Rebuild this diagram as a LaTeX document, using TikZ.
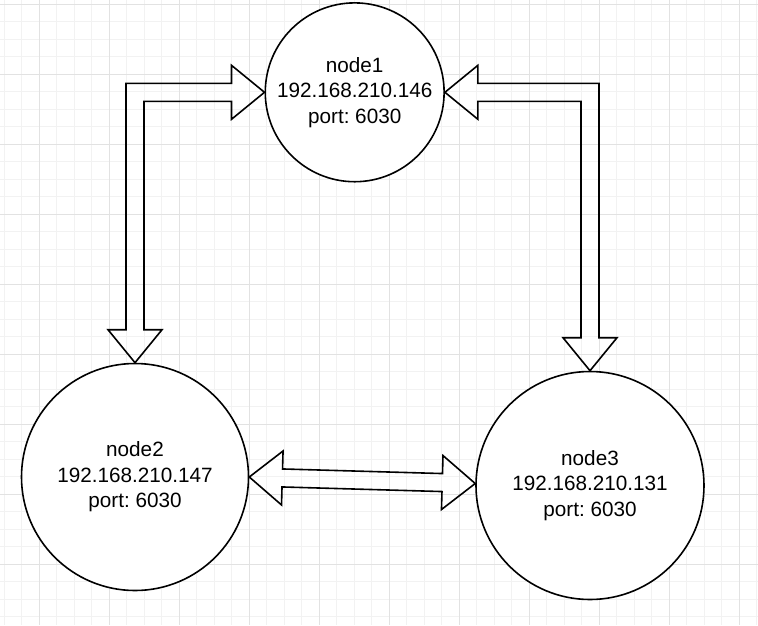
\documentclass[tikz,border=0pt]{standalone}
\usepackage{fontspec}
\setmainfont{Liberation Sans}
\usetikzlibrary{calc}

\definecolor{gridfine}{RGB}{242,242,242}
\definecolor{gridbold}{RGB}{226,226,226}

\newcommand{\twinarrow}[2]{
	\draw [hollow] (#1) -- ($(#1)!33pt!(#2)!27pt!90:(#2)$) -- ($(#1)!33pt!(#2)!9pt!90:(#2)$)
	-- ($(#2)!33pt!(#1)!9pt!-90:(#1)$) -- ($(#2)!33pt!(#1)!27pt!-90:(#1)$) -- (#2)
	-- ($(#2)!33pt!(#1)!27pt!90:(#1)$) -- ($(#2)!33pt!(#1)!9pt!90:(#1)$)
	-- ($(#1)!33pt!(#2)!9pt!-90:(#2)$) -- ($(#1)!33pt!(#2)!27pt!-90:(#2)$) -- cycle;
}

\begin{document}
\begin{tikzpicture}
	[x=1pt, y=-1pt, line width=1.6pt,
	host/.style={circle, draw, fill=white, align=center,
		font=\fontsize{20.7}{25.5}\selectfont\frenchspacing},
	hollow/.style={draw, line join=miter}]
	\useasboundingbox (0,0) rectangle (758,625);
	% grid
	\foreach \k in {0,...,43}
		\draw [gridfine, line width=1pt] (4.3+17.5*\k,0) -- ++(0,625);
	\foreach \k in {0,...,35}
		\draw [gridfine, line width=1pt] (0,4.3+17.5*\k) -- ++(758,0);
	\foreach \k in {0,...,10}
		\draw [gridbold, line width=1pt] (39.3+70*\k,0) -- ++(0,625);
	\foreach \k in {0,...,8}
		\draw [gridbold, line width=1pt] (0,4.3+70*\k) -- ++(758,0);
	% hosts
	\node [host, minimum size=176pt] (n1) at (354.7,92.3) {node1\\192.168.210.146\\port: 6030};
	\node [host, minimum size=227pt] (n2) at (135,477) {node2\\192.168.210.147\\port: 6030};
	\node [host, minimum size=228pt] (n3) at (590,485.5) {node3\\192.168.210.131\\port: 6030};
	% left 
	\draw [hollow] (n1.west) -- ++(-33,-27) -- ++(0,18)
		-- ($(n2.north |- n1.west)+(-9,-9)$) -- ($(n2.north)+(-9,-33)$)
		-- ++(-18,0) -- (n2.north) -- ++(27,-33) -- ++(-18,0)
		-- ($(n2.north |- n1.west)+(9,9)$) -- ($(n1.west)+(-33,9)$)
		-- ++(0,18) -- cycle;
	% right 
	\draw [hollow] (n1.east) -- ++(33,-27) -- ++(0,18)
		-- ($(n3.north |- n1.east)+(9,-9)$) -- ($(n3.north)+(9,-33)$)
		-- ++(18,0) -- (n3.north) -- ++(-27,-33) -- ++(18,0)
		-- ($(n3.north |- n1.east)+(-9,9)$) -- ($(n1.east)+(33,9)$)
		-- ++(0,18) -- cycle;
	% bottom 
	\twinarrow{n2.east}{n3.179}
\end{tikzpicture}
\end{document}
